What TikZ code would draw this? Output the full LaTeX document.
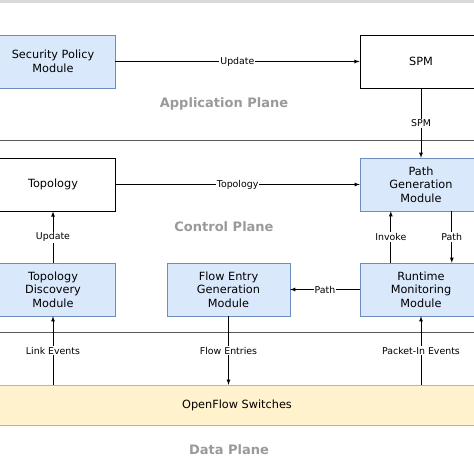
\documentclass[tikz,border=0pt]{standalone}
\usepackage{fontspec}
\setmainfont{DejaVu Sans}
\definecolor{bluefill}{HTML}{DAE8FC}
\definecolor{blueline}{HTML}{6C8EBF}
\definecolor{yellowfill}{HTML}{FFF2CC}
\definecolor{yellowline}{HTML}{D6B656}
\definecolor{planegray}{HTML}{9A9A9A}

\begin{document}
\begin{tikzpicture}[x=1pt, y=1pt,
  every node/.style={font=\fontsize{11.3}{13.5}\selectfont, align=center},
  module/.style={draw=blueline, fill=bluefill, rectangle, minimum height=53pt, inner sep=0pt},
  store/.style={draw=black, thick, fill=white, rectangle, minimum height=53pt, inner sep=0pt},
  lbl/.style={fill=white, inner sep=1pt, font=\fontsize{9.4}{11}\selectfont},
  plane/.style={text=planegray, font=\fontsize{13}{15}\selectfont\bfseries},
  sep/.style={draw=black!65, line width=1pt},
  link/.style={draw, thick, -latex}]
\clip (0,0) rectangle (474,474);
\useasboundingbox (0,0) rectangle (474,474);
\fill[black!15] (0,471) rectangle (474,474);
% plane separators
\path[sep] (0,333) -- (474,333);
\path[sep] (0,141) -- (474,141);
% application plane
\node[module, minimum width=124pt] (spmod) at (53,412.5) {Security Policy\\Module};
\node[store, minimum width=122pt] (spm) at (421,412.5) {SPM};
\node[plane] (app) at (224,370) {Application Plane};
% control plane
\node[store, minimum width=124pt] (topo) at (53,289.5) {Topology};
\node[module, minimum width=122pt] (pathgen) at (421,289.5) {Path\\Generation\\Module};
\node[plane] (ctrl) at (224,247) {Control Plane};
\node[module, minimum width=124pt] (topodisc) at (53,184.5) {Topology\\Discovery\\Module};
\node[module, minimum width=123pt] (flowgen) at (228.5,184.5) {Flow Entry\\Generation\\Module};
\node[module, minimum width=122pt] (runmon) at (421,184.5) {Runtime\\Monitoring\\Module};
% data plane
\node[draw=yellowline, fill=yellowfill, rectangle, minimum width=490pt, minimum height=40pt] (ofs) at (237,69) {OpenFlow Switches};
\node[plane] (data) at (229,24) {Data Plane};
% connectors
\path[link] (spmod) -- node[lbl] {Update} (spm);
\path[link] (spm) -- node[lbl] {SPM} (pathgen);
\path[link] (topo) -- node[lbl] {Topology} (pathgen);
\path[link] (topodisc) -- node[lbl] {Update} (topo);
\path[link] (runmon.north west) ++(31,0) coordinate (inv) -- node[lbl] {Invoke} (inv |- pathgen.south);
\path[link] (pathgen.south west) ++(92,0) coordinate (pth) -- node[lbl] {Path} (pth |- runmon.north);
\path[link] (runmon) -- node[lbl] {Path} (flowgen);
\path[link] (topodisc |- ofs.north) -- node[lbl] {Link Events} (topodisc);
\path[link] (flowgen) -- node[lbl] {Flow Entries} (flowgen |- ofs.north);
\path[link] (runmon |- ofs.north) -- node[lbl] {Packet-In Events} (runmon);
\end{tikzpicture}
\end{document}
